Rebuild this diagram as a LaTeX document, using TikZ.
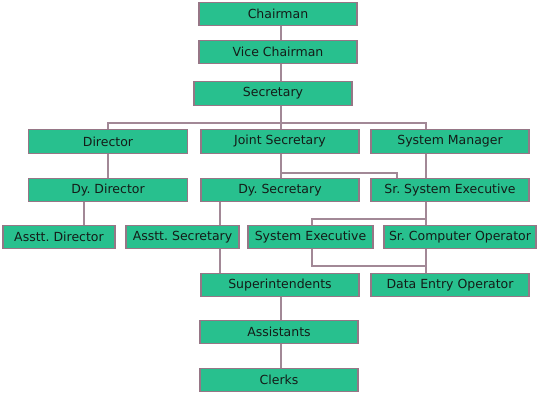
\documentclass[tikz,border=0pt]{standalone}
\usepackage{fontspec}
\setmainfont{DejaVu Sans}
\usepackage{xcolor}
\usetikzlibrary{backgrounds}
\definecolor{postgreen}{RGB}{40,192,142}
\definecolor{postedge}{RGB}{150,118,134}
\definecolor{linkgray}{RGB}{162,136,150}
\definecolor{posttext}{RGB}{20,28,24}
\frenchspacing

\begin{document}
\begin{tikzpicture}[
  x=1pt, y=-1pt,
  font=\fontsize{12.5}{14}\selectfont,
  post/.style={rectangle, draw=postedge, line width=1.2pt, fill=postgreen,
    text=posttext, minimum height=23.5pt, inner sep=1pt, align=center},
  link/.style={draw=linkgray, line width=1.4pt}
]
\useasboundingbox (0,0) rectangle (545,400);
% top of the chain
\node[post, minimum width=158pt] (cha) at (278,14) {Chairman};
\node[post, minimum width=158pt] (vc) at (278,52) {Vice Chairman};
\node[post, minimum width=158pt] (sec) at (273,93.5) {Secretary};
% second and third rows
\node[post, minimum width=159pt] (dir) at (108,141.5) {Director};
\node[post, minimum width=158pt] (js) at (280,141.5) {Joint Secretary};
\node[post, minimum width=158pt] (sm) at (450,141.5) {System Manager};
\node[post, minimum width=159pt] (ddir) at (108,190) {Dy. Director};
\node[post, minimum width=158pt] (dsec) at (280,190) {Dy. Secretary};
\node[post, minimum width=158pt] (sse) at (450,190) {Sr. System Executive};
% fourth row
\node[post, minimum width=112pt] (adir) at (59,237) {Asstt. Director};
\node[post, minimum width=113pt] (asec) at (182.5,237) {Asstt. Secretary};
\node[post, minimum width=125pt] (se) at (310.5,237) {System Executive};
\node[post, minimum width=152pt] (sco) at (460,237) {Sr. Computer Operator};
% lower rows
\node[post, minimum width=158pt] (sup) at (280,285) {Superintendents};
\node[post, minimum width=158pt] (deo) at (450,285) {Data Entry Operator};
\node[post, minimum width=158pt] (ast) at (279,332) {Assistants};
\node[post, minimum width=158pt] (clk) at (279,380) {Clerks};
% helper points for the connectors
\coordinate (vx) at (281,0);
\coordinate (mx) at (426,0);
\coordinate (ax) at (84,0);
\coordinate (sx) at (220,0);
\coordinate (bus) at (281,123);
\coordinate (jbend) at (397,173);
\coordinate (sbend) at (312,219);
\coordinate (ebend) at (312,266);
\begin{scope}[on background layer]
  \draw[link] (cha.south -| vx) -- (vc.north -| vx);
  \draw[link] (vc.south -| vx) -- (sec.north -| vx);
  \draw[link] (sec.south -| vx) -- (js.north -| vx);
  \draw[link] (dir.north) |- (bus) -| (sm.north -| mx);
  \draw[link] (dir.south) -- (ddir.north);
  \draw[link] (js.south -| vx) -- (dsec.north -| vx);
  \draw[link] (js.south -| vx) |- (jbend) -- (sse.north -| jbend);
  \draw[link] (sm.south -| mx) -- (sse.north -| mx);
  \draw[link] (ddir.south -| ax) -- (adir.north -| ax);
  \draw[link] (dsec.south -| sx) -- (sup.north -| sx);
  \draw[link] (sse.south -| mx) -- (deo.north -| mx);
  \draw[link] (se.north -| sbend) -- (sbend) -- (sbend -| mx);
  \draw[link] (se.south -| ebend) -- (ebend) -- (ebend -| mx);
  \draw[link] (sup.south -| vx) -- (ast.north -| vx);
  \draw[link] (ast.south -| vx) -- (clk.north -| vx);
\end{scope}
\end{tikzpicture}
\end{document}
